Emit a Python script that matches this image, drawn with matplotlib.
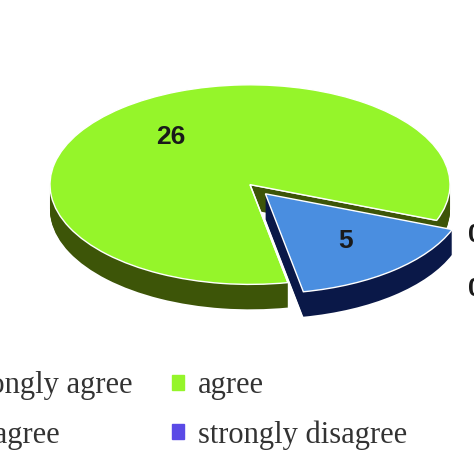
import matplotlib.pyplot as plt
import numpy as np

categories = ['strongly agree', 'agree', 'disagree', 'strongly disagree']
values = [0, 26, 0, 5]
top_colors = ['#f0a030', '#95f52a', '#c0c0c0', '#4a8ee0']
side_colors = ['#806020', '#3d5508', '#606060', '#0a1848']
legend_colors = ['#f0a030', '#95f52a', '#c0c0c0', '#5a4ae6']
explode = [0, 0, 0, 0.12]

fig = plt.figure(figsize=(4.74, 4.74), dpi=100)
ax = fig.add_axes([0, 0, 1, 1])

start = -21
depth = 0.25
for dy in np.linspace(-depth, 0, 26)[:-1]:
    ax.pie(values, colors=side_colors, explode=explode, startangle=start,
           center=(0, dy), wedgeprops=dict(linewidth=0))
wedges, _ = ax.pie(values, colors=top_colors, explode=explode, startangle=start,
                   center=(0, 0), wedgeprops=dict(edgecolor='white', linewidth=1))
ax.set_aspect('auto')
ax.set_xlim(-1.25, 1.12)
ax.set_ylim(-2.9, 1.85)
ax.axis('off')

# value labels
ang = start
for v, e in zip(values, explode):
    span = v / sum(values) * 360
    if v > 0:
        mid = np.deg2rad(ang + span / 2)
        r = 0.62 + e
        ax.text(r * np.cos(mid), r * np.sin(mid), str(v), fontsize=19,
                fontweight='bold', family='Liberation Sans', color='#1a1a1a',
                ha='center', va='center')
    ang += span
zero_pos = [(1.09, -0.5), (1.09, -1.05)]
zeros = [v for v in values if v == 0]
for v, (x, y) in zip(zeros, zero_pos):
    ax.text(x, y, str(v), fontsize=19, fontweight='bold', family='Liberation Sans',
            color='#1a1a1a', ha='left', va='center')

# row-major legend order (matplotlib fills columns first)
order = [0, 2, 1, 3]
handles = [plt.Rectangle((0, 0), 1, 1, color=legend_colors[i]) for i in order]
labels = [categories[i] for i in order]
fig.legend(handles, labels, loc='upper left', bbox_to_anchor=(-0.2, 0.275),
           ncol=2, frameon=False, handlelength=0.4, handleheight=0.4,
           handletextpad=0.45, columnspacing=1.3, labelspacing=0.65,
           prop=dict(family='Liberation Serif', size=22), labelcolor='#333333')

fig.savefig('out.png', dpi=100)
